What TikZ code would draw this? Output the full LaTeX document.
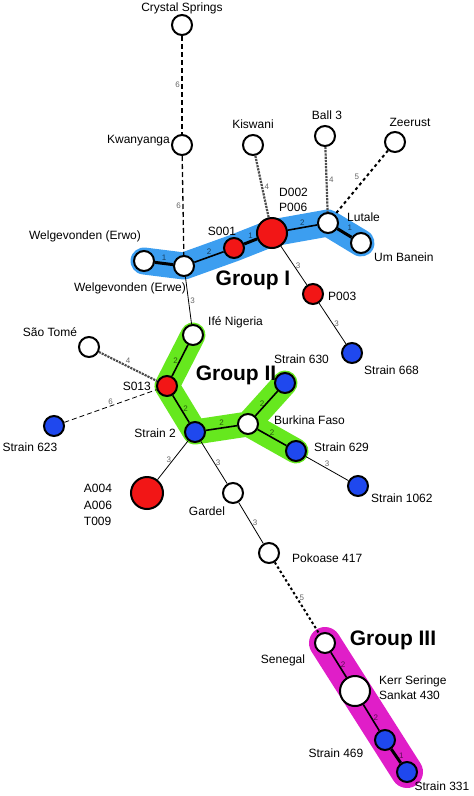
\documentclass[tikz,border=0pt]{standalone}
\usepackage{fontspec}
\setmainfont{Liberation Sans}
\usetikzlibrary{positioning,backgrounds}
\definecolor{grpone}{HTML}{3C9EF0}
\definecolor{grptwo}{HTML}{66E81E}
\definecolor{grpthree}{HTML}{E01EC8}
\definecolor{stred}{HTML}{F21616}
\definecolor{stblue}{HTML}{1F48EE}

\tikzset{
  st/.style={circle,draw,line width=2pt,minimum size=20pt,inner sep=0pt,fill=white},
  bigst/.style={st,minimum size=30pt},
  redst/.style={fill=stred},
  bluest/.style={fill=stblue},
  lbl/.style={font=\fontsize{12}{15}\selectfont,inner sep=1pt},
  grplbl/.style={font=\fontsize{21}{24}\selectfont\bfseries,inner sep=0pt},
  elab/.style={font=\fontsize{8}{9}\selectfont,text=black,text opacity=0.6,inner sep=1.5pt},
  thin/.style={line width=0.8pt},
  mid/.style={line width=1.6pt},
  thk/.style={line width=3pt},
  dot/.style={line width=2.2pt,densely dotted,black!70},
  dsh/.style={line width=1.3pt,dash pattern=on 5pt off 3pt},
  band/.style={line width=#1,line cap=round,line join=round}
}

\begin{document}
\begin{tikzpicture}[x=1pt,y=-1pt]
  \useasboundingbox (0,0) rectangle (474,796);
  % strains
  \node[st] (cs) at (182,25) {};
  \node[st] (kwa) at (182,145) {};
  \node[st] (kis) at (253,145) {};
  \node[st] (ball) at (325,136) {};
  \node[st] (zee) at (395,142) {};
  \node[st] (erwo) at (144,261) {};
  \node[st] (erwe) at (184,266) {};
  \node[st,redst] (s001) at (234,248) {};
  \node[bigst,redst] (d002) at (272,233) {};
  \node[st] (lut) at (328,223) {};
  \node[st] (umb) at (361,243) {};
  \node[st,redst] (p003) at (313,294) {};
  \node[st,bluest] (s668) at (352,353) {};
  \node[st] (ife) at (193,335) {};
  \node[st] (sto) at (89,347) {};
  \node[st,redst] (s013) at (167,386) {};
  \node[st,bluest] (s623) at (54,426) {};
  \node[st,bluest] (s2) at (195,432) {};
  \node[st,bluest] (s630) at (285,383) {};
  \node[st] (bf) at (248,424) {};
  \node[st,bluest] (s629) at (296,451) {};
  \node[st,bluest] (s1062) at (358,486) {};
  \node[bigst,redst,minimum size=32pt] (a004) at (147,493) {};
  \node[st] (gar) at (233,493) {};
  \node[st] (pok) at (269,553) {};
  \node[st] (sen) at (325,643) {};
  \node[bigst] (ker) at (355,691) {};
  \node[st,bluest] (s469) at (385,740) {};
  \node[st,bluest] (s331) at (407,772) {};

  % links
  \draw[dsh] (cs) -- node[elab,left] (w1) {6} (kwa);
  \draw[dsh] (kwa) -- node[elab,left] (w2) {6} (erwe);
  \draw[thk] (erwo) -- node[elab,above] (w3) {1} (erwe);
  \draw[mid] (erwe) -- node[elab,above] (w4) {2} (s001);
  \draw[thk] (s001) -- node[elab,above] (w5) {1} (d002);
  \draw[mid] (d002) -- node[elab,above] (w6) {2} (lut);
  \draw[thk] (lut) -- node[elab,above right] (w7) {1} (umb);
  \draw[dot] (kis) -- node[elab,right] (w8) {4} (d002);
  \draw[dot] (ball) -- node[elab,right] (w9) {4} (lut);
  \draw[line width=2pt,dash pattern=on 3pt off 3pt] (zee) -- node[elab,above left] (w10) {5} (lut);
  \draw[thin] (d002) -- node[elab,right] (w11) {3} (p003);
  \draw[thin] (p003) -- node[elab,right] (w12) {3} (s668);
  \draw[thin] (erwe) -- node[elab,right] (w13) {3} (ife);
  \draw[mid] (ife) -- node[elab,left] (w14) {2} (s013);
  \draw[mid] (s013) -- node[elab,right] (w15) {2} (s2);
  \draw[dot] (sto) -- node[elab,above] (w16) {4} (s013);
  \draw[dsh,thin,dash pattern=on 5pt off 3pt] (s623) -- node[elab,above] (w17) {6} (s013);
  \draw[mid] (s2) -- node[elab,above] (w18) {2} (bf);
  \draw[mid] (bf) -- node[elab,left] (w19) {2} (s630);
  \draw[mid] (bf) -- node[elab,above] (w20) {2} (s629);
  \draw[thin] (s629) -- node[elab,above] (w21) {3} (s1062);
  \draw[thin] (s2) -- node[elab,left] (w22) {3} (a004);
  \draw[thin] (s2) -- node[elab,right] (w23) {3} (gar);
  \draw[thin] (gar) -- node[elab,right] (w24) {3} (pok);
  \draw[line width=2pt,dash pattern=on 2.5pt off 2.5pt] (pok) -- node[elab,right] (w25) {5} (sen);
  \draw[mid] (sen) -- node[elab,right] (w26) {2} (ker);
  \draw[mid] (ker) -- node[elab,right] (w27) {2} (s469);
  \draw[thk] (s469) -- node[elab,right] (w28) {1} (s331);

  % groups
  \begin{scope}[on background layer]
    \draw[grpone,band=27pt] (erwo.center) -- (erwe.center) -- (s001.center) -- (d002.center) -- (lut.center) -- (umb.center);
    \draw[grptwo,band=25pt] (ife.center) -- (s013.center) -- (s2.center) -- (bf.center) -- (s630.center)
      (bf.center) -- (s629.center);
    \draw[grpthree,band=32pt] (sen.center) -- (s331.center);
  \end{scope}
  \node[grplbl] (g1) at (253,280) {Group I};
  \node[grplbl] (g2) at (236,375) {Group II};
  \node[grplbl] (g3) at (393,640) {Group III};

  % names
  \node[lbl] (cs-t) at (182,8) {Crystal Springs};
  \node[lbl,anchor=east] (kwa-t) at (171,141) {Kwanyanga};
  \node[lbl] (kis-t) at (253,124) {Kiswani};
  \node[lbl] (ball-t) at (327,115) {Ball 3};
  \node[lbl] (zee-t) at (410,122) {Zeerust};
  \node[lbl,anchor=west,align=left] (d002-t) at (278,200) {D002\\P006};
  \node[lbl,anchor=west] (lut-t) at (346,217) {Lutale};
  \node[lbl,anchor=west] (umb-t) at (373,257) {Um Banein};
  \node[lbl] (s001-t) at (222,231) {S001};
  \node[lbl] (erwo-t) at (85,236) {Welgevonden (Erwo)};
  \node[lbl] (erwe-t) at (130,288) {Welgevonden (Erwe)};
  \node[lbl,anchor=west] (p003-t) at (327,296) {P003};
  \node[lbl,anchor=west] (s668-t) at (363,370) {Strain 668};
  \node[lbl,anchor=west] (ife-t) at (207,322) {Ifé Nigeria};
  \node[lbl] (sto-t) at (50,332) {São Tomé};
  \node[lbl,anchor=east] (s013-t) at (152,386) {S013};
  \node[lbl] (s623-t) at (30,447) {Strain 623};
  \node[lbl,anchor=east] (s2-t) at (177,433) {Strain 2};
  \node[lbl,anchor=west] (s630-t) at (273,359) {Strain 630};
  \node[lbl,anchor=west] (bf-t) at (273,420) {Burkina Faso};
  \node[lbl,anchor=west] (s629-t) at (313,447) {Strain 629};
  \node[lbl,anchor=west] (s1062-t) at (370,498) {Strain 1062};
  \node[lbl,align=left,font=\fontsize{12}{16.5}\selectfont] (a004-t) at (98,505) {A004\\A006\\T009};
  \node[lbl] (gar-t) at (207,511) {Gardel};
  \node[lbl,anchor=west] (pok-t) at (291,558) {Pokoase 417};
  \node[lbl] (sen-t) at (283,660) {Senegal};
  \node[lbl,anchor=west,align=left] (ker-t) at (378,688) {Kerr Seringe\\Sankat 430};
  \node[lbl] (s469-t) at (336,753) {Strain 469};
  \node[lbl] (s331-t) at (442,786) {Strain 331};
\end{tikzpicture}
\end{document}
